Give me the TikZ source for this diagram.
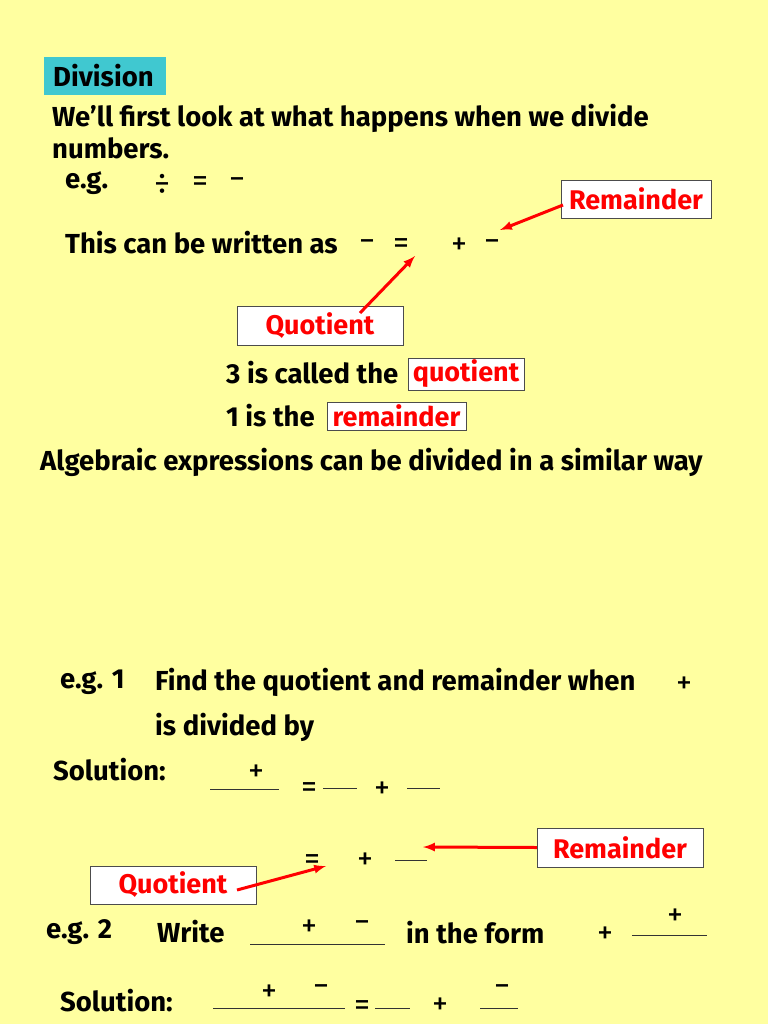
\documentclass[tikz,border=0pt]{standalone}
\usepackage{fontspec}
\setmainfont{Fira Sans}
\begin{document}
\begin{tikzpicture}[x=1pt,y=-1pt,
  txt/.style={anchor=west,inner sep=0pt,font=\fontsize{27.5}{29}\selectfont\bfseries},
  sym/.style={inner sep=0pt,font=\fontsize{32}{34}\selectfont},
  lbl/.style={draw=black!70,fill=white,text=red,font=\fontsize{27}{29}\selectfont\bfseries,inner sep=0pt},
  redarrow/.style={red,line width=3pt,-latex},
  fracline/.style={line width=1pt,black!80}]
\fill[fill={rgb,255:red,255;green,255;blue,160}] (0,0) rectangle (768,1024);
\useasboundingbox (0,0) rectangle (768,1024);
% header
\node[fill={rgb,255:red,64;green,200;blue,208},minimum width=122pt,minimum height=38pt,anchor=north west,inner sep=0pt] (div) at (44,57) {};
\node[txt] (divt) at (53,76) {Division};
\node[txt] (l1) at (52,118) {We’ll first look at what happens when we divide};
\node[txt] (l2) at (52,148) {numbers.};
\node[txt] (eg) at (65,183) {e.g.};
\node[sym] (d1) at (162,184) {÷};
\node[sym] (d2) at (200,184) {=};
\node[sym] (d3) at (237,184) {−};
\node[txt] (tc) at (65,243) {This can be written as};
\node[sym] (w1) at (367,246) {−};
\node[sym] (w2) at (401,246) {=};
\node[sym] (w3) at (459,246) {+};
\node[sym] (w4) at (492,246) {−};
\node[lbl,minimum width=150pt,minimum height=38pt] (rem1) at (636,199) {Remainder};
\coordinate (rem1t) at (500,230);
\draw[redarrow] (563,205) -- (rem1t);
\node[lbl,minimum width=166pt,minimum height=39pt] (quo1) at (320,326) {Quotient};
\coordinate (quo1t) at (415,256);
\draw[redarrow] (360,313) -- (quo1t);
\node[txt] (c3) at (226,373) {3 is called the};
\node[lbl,minimum width=116pt,minimum height=32pt] (q2) at (466,374) {quotient};
\node[txt] (c1) at (226,416) {1 is the};
\node[lbl,minimum width=139pt,minimum height=28pt] (r2) at (396.5,416) {remainder};
\node[txt] (alg) at (40,462) {Algebraic expressions can be divided in a similar way};
% example 1
\node[txt] (e1) at (60,682) {e.g. 1};
\node[txt] (find) at (155,682) {Find the quotient and remainder when};
\node[sym] (fp) at (684,685) {+};
\node[txt] (isd) at (155,727) {is divided by};
\node[txt] (sol1) at (53,770) {Solution:};
\node[sym] (s1p) at (256,773) {+};
\draw[fracline] (210,789) -- (279,789);
\node[sym] (s1e) at (309,790) {=};
\draw[fracline] (323,788) -- (357,788);
\node[sym] (s1p2) at (382,790) {+};
\draw[fracline] (407,788) -- (440,788);
\node[sym] (s2e) at (312,862) {=};
\node[sym] (s2p) at (365,861) {+};
\draw[fracline] (395,860) -- (427,860);
\node[lbl,minimum width=166pt,minimum height=39pt] (rem3) at (620,847.5) {Remainder};
\coordinate (rem3t) at (423,847);
\draw[redarrow] (rem3.west) -- (rem3t);
\node[lbl,minimum width=166pt,minimum height=38pt] (quo3) at (173,885) {Quotient};
\coordinate (quo3t) at (326,866);
\draw[redarrow] (237,890) -- (quo3t);
% example 2
\node[txt] (e2) at (46,932) {e.g. 2};
\node[txt] (wr) at (157,932) {Write};
\node[sym] (w2p) at (309,928) {+};
\node[sym] (w2m) at (362,927) {−};
\draw[fracline] (250,944) -- (385,944);
\node[txt] (itf) at (406,933) {in the form};
\node[sym] (f1) at (605,935) {+};
\node[sym] (f2) at (675,917) {+};
\draw[fracline] (632,935) -- (707,935);
\node[txt] (sol2) at (60,1001) {Solution:};
\node[sym] (t1) at (269,993) {+};
\node[sym] (t2) at (321,991) {−};
\draw[fracline] (213,1008) -- (345,1008);
\node[sym] (t3) at (362,1008) {=};
\draw[fracline] (375,1008) -- (410,1008);
\node[sym] (t4) at (440,1006) {+};
\node[sym] (t5) at (502,991) {−};
\draw[fracline] (480,1008) -- (518,1008);
\end{tikzpicture}
\end{document}
